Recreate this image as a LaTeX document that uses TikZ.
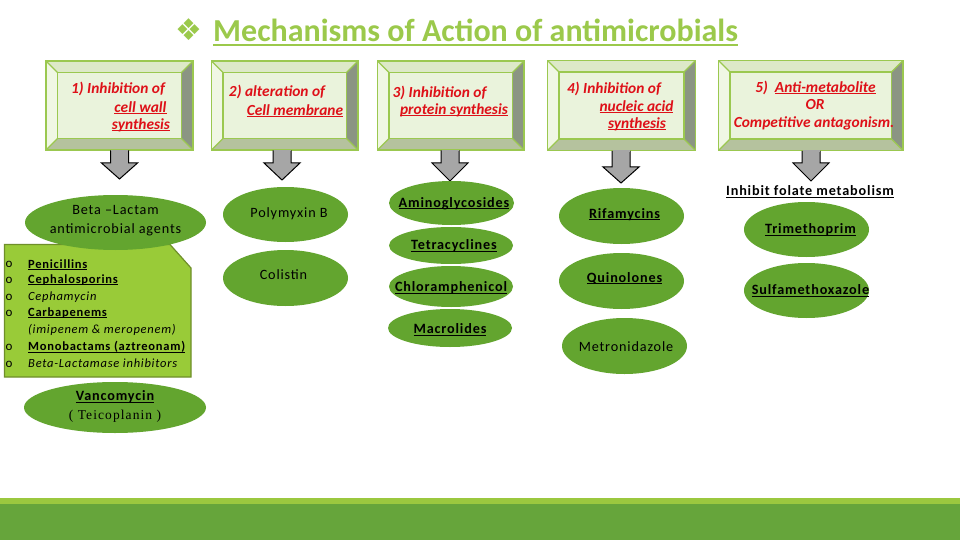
\documentclass[tikz,border=0pt]{standalone}
\usepackage{fontspec}
\setmainfont{Carlito}
\newfontfamily\spc[LetterSpace=6]{Carlito}
\newfontfamily\dingfont{DejaVu Sans}
\newfontfamily\serifspc[LetterSpace=8]{Liberation Serif}
\usetikzlibrary{shapes.geometric}
\definecolor{bandlight}{HTML}{9BC83F}
\definecolor{banddark}{HTML}{66A53B}
\definecolor{titlegreen}{HTML}{9BC94B}
\definecolor{ellgreen}{HTML}{63A52F}
\definecolor{listgreen}{HTML}{99CB38}
\definecolor{listedge}{HTML}{6F8F2A}
\definecolor{bevedge}{HTML}{9BC850}
\definecolor{bevtop}{HTML}{DDE9C8}
\definecolor{bevleft}{HTML}{F0F7E4}
\definecolor{bevbot}{HTML}{B5C29E}
\definecolor{bevright}{HTML}{8B9583}
\definecolor{bevmid}{HTML}{EAF3DC}
\definecolor{redtxt}{HTML}{DE1018}
\tikzset{
  x=1pt,y=-1pt,
  ell/.style={ellipse,fill=ellgreen,inner sep=0pt,outer sep=0pt},
  elltxt/.style={inner sep=0pt,font=\fontsize{14.2}{16}\spc\bfseries,text=black},
  plaintxt/.style={inner sep=0pt,font=\fontsize{14.2}{17}\spc,text=black},
  redlab/.style={inner sep=0pt,text=redtxt,font=\fontsize{15.4}{17}\bfseries\itshape},
  listtxt/.style={inner sep=0pt,anchor=west,font=\fontsize{12.5}{14}\spc},
  bul/.style={inner sep=0pt,font=\fontsize{13}{14}\selectfont},
  blockarrow/.style={draw=black,line width=1pt,fill=black!35,line join=miter},
}
\newlength\ulinedepth \setlength\ulinedepth{1.8pt}
\newlength\ulinethick \setlength\ulinethick{0.9pt}
\newcommand{\uline}[1]{\leavevmode\setbox0=\hbox{#1}\makebox[0pt][l]{\smash{\rule[-\ulinedepth]{\wd0}{\ulinethick}}}\box0 }
% bevelled box: x0,y0,x1,y1
\newcommand{\bevbox}[4]{%
  \fill[bevtop] (#1,#2) -- (#3,#2) -- (#3-11.5,#2+11.5) -- (#1+11.5,#2+11.5) -- cycle;
  \fill[bevleft] (#1,#2) -- (#1+11.5,#2+11.5) -- (#1+11.5,#4-11.5) -- (#1,#4) -- cycle;
  \fill[bevright] (#3,#2) -- (#3-11.5,#2+11.5) -- (#3-11.5,#4-11.5) -- (#3,#4) -- cycle;
  \fill[bevbot] (#1,#4) -- (#1+11.5,#4-11.5) -- (#3-11.5,#4-11.5) -- (#3,#4) -- cycle;
  \fill[bevmid] (#1+11.5,#2+11.5) rectangle (#3-11.5,#4-11.5);
  \draw[bevedge,line width=1.8pt] (#1,#2) rectangle (#3,#4);
  \draw[bevedge,line width=1.4pt] (#1+11.5,#2+11.5) rectangle (#3-11.5,#4-11.5);
  \draw[bevedge,line width=1.2pt] (#1,#2) -- (#1+11.5,#2+11.5) (#3,#2) -- (#3-11.5,#2+11.5)
     (#1,#4) -- (#1+11.5,#4-11.5) (#3,#4) -- (#3-11.5,#4-11.5);
}
% block arrow: tipx, top, headtop, tip
\newcommand{\blockarr}[4]{%
  \draw[blockarrow] (#1-9,#2) -- (#1-9,#3) -- (#1-18,#3) -- (#1,#4) -- (#1+18,#3) -- (#1+9,#3) -- (#1+9,#2);
  \fill[black!35] (#1-8.5,#2-0.5) rectangle (#1+8.5,#2+1);
}
\begin{document}
\begin{tikzpicture}
\useasboundingbox (0,0) rectangle (960,540);
\fill[white] (0,0) rectangle (960,540);
% bottom bands
\fill[bandlight] (0,498) rectangle (960,504);
\fill[banddark] (0,504) rectangle (960,540);
% title
\draw[black!45,line width=1.2pt] (214,45.5) -- (738,45.5);
\node[inner sep=0pt,text=titlegreen] (bullet) at (189,30) {\fontsize{30}{32}\dingfont ❖};
\node[inner sep=0pt,anchor=west,text=titlegreen] (title) at (213,30)
  {\fontsize{32}{34}\bfseries\setlength\ulinedepth{4.6pt}\setlength\ulinethick{2pt}\uline{Mechanisms of Action of antimicrobials}};
% boxes
\bevbox{46}{61}{193}{150}
\bevbox{211.5}{61}{358}{150}
\bevbox{377.5}{61}{524}{150}
\bevbox{547.5}{60.5}{695.5}{150.5}
\bevbox{718.5}{60.5}{903}{150.5}
% box labels
\node[redlab] (b1a) at (118,89) {1) Inhibition of};
\node[redlab] (b1b) at (140.5,107) {\uline{cell wall}};
\node[redlab] (b1c) at (141,125) {\uline{synthesis}};
\node[redlab] (b2a) at (277,92) {2) alteration of};
\node[redlab] (b2b) at (295,110) {\uline{Cell membrane}};
\node[redlab] (b3a) at (439.5,93) {3) Inhibition of};
\node[redlab] (b3b) at (454,110) {\uline{protein synthesis}};
\node[redlab] (b4a) at (614,89) {4) Inhibition of};
\node[redlab] (b4b) at (636.5,106) {\uline{nucleic acid}};
\node[redlab] (b4c) at (637,124) {\uline{synthesis}};
\node[redlab] (b5a) at (815.5,88) {5)~ \uline{Anti-metabolite}};
\node[redlab] (b5b) at (815,105) {OR};
\node[redlab] (b5c) at (814,123) {Competitive antagonism.};
% arrows
\blockarr{119.5}{150.5}{163}{179}
\blockarr{282}{150.5}{163}{180}
\blockarr{450}{150.5}{163}{181}
\blockarr{621}{151}{167}{183}
\blockarr{811}{151}{163}{181}
% list box
\draw[fill=listgreen,draw=listedge,line width=1.2pt] (4.5,244.5) -- (170,244.5) -- (191,268) -- (191,377) -- (4.5,377) -- cycle;
% ellipses
\node[ell,minimum width=181pt,minimum height=55pt] (beta) at (115.5,222.5) {};
\node[ell,minimum width=182pt,minimum height=51pt] (vanco) at (115,407.5) {};
\node[ell,minimum width=125pt,minimum height=55pt] (poly) at (285.5,214.5) {};
\node[ell,minimum width=125pt,minimum height=56pt] (coli) at (285.5,278) {};
\node[ell,minimum width=125pt,minimum height=44pt] (amino) at (451.5,203) {};
\node[ell,minimum width=124pt,minimum height=37pt] (tetra) at (451,245.5) {};
\node[ell,minimum width=124pt,minimum height=41pt] (chlor) at (451,286.5) {};
\node[ell,minimum width=124pt,minimum height=38pt] (macro) at (450,328) {};
\node[ell,minimum width=125pt,minimum height=56pt] (rifa) at (621.5,216) {};
\node[ell,minimum width=125pt,minimum height=56pt] (quin) at (621.5,281) {};
\node[ell,minimum width=125pt,minimum height=56pt] (metro) at (624.5,346) {};
\node[ell,minimum width=125pt,minimum height=55pt] (trim) at (806.5,229.5) {};
\node[ell,minimum width=125pt,minimum height=55pt] (sulf) at (806.5,290.5) {};
% ellipse labels
\node[plaintxt,align=center] (betat) at (115.5,220.5) {Beta –Lactam\\[1.5pt]antimicrobial agents};
\node[elltxt] (vancot) at (115,397) {\uline{Vancomycin}};
\node[inner sep=0pt,font=\fontsize{13.5}{16}\serifspc] (teico) at (115,416) {( Teicoplanin )};
\node[plaintxt] (polyt) at (289,214) {Polymyxin B};
\node[plaintxt] (colit) at (283.5,275) {Colistin};
\node[elltxt] (aminot) at (454,203.5) {\uline{Aminoglycosides}};
\node[elltxt] (tetrat) at (454,246) {\uline{Tetracyclines}};
\node[elltxt] (chlort) at (451,288) {\uline{Chloramphenicol}};
\node[elltxt] (macrot) at (450,329) {\uline{Macrolides}};
\node[elltxt] (rifat) at (624.5,214.5) {\uline{Rifamycins}};
\node[elltxt] (quint) at (624.5,278.5) {\uline{Quinolones}};
\node[plaintxt] (metrot) at (626,347) {Metronidazole};
\node[elltxt] (trimt) at (810.5,230) {\uline{Trimethoprim}};
\node[elltxt] (sulft) at (810.5,290) {\uline{Sulfamethoxazole}};
\node[elltxt] (inhib) at (810,191) {\uline{Inhibit folate metabolism}};
% list
\foreach \yy/\nm in {264/o1,280/o2,297/o3,313/o4,347/o5,364/o6}{
  \node[bul] (\nm) at (9,\yy) {o};
}
\node[listtxt] (l1) at (28,264) {\bfseries\uline{Penicillins}};
\node[listtxt] (l2) at (28,280) {\bfseries\uline{Cephalosporins}};
\node[listtxt] (l3) at (28,297) {\itshape Cephamycin};
\node[listtxt] (l4) at (28,313) {\bfseries\uline{Carbapenems}};
\node[listtxt] (l5) at (28,330) {\itshape (imipenem \& meropenem)};
\node[listtxt] (l6) at (28,347) {\bfseries\uline{Monobactams (aztreonam)}};
\node[listtxt] (l7) at (28,363.5) {\itshape Beta-Lactamase inhibitors};
\end{tikzpicture}
\end{document}
